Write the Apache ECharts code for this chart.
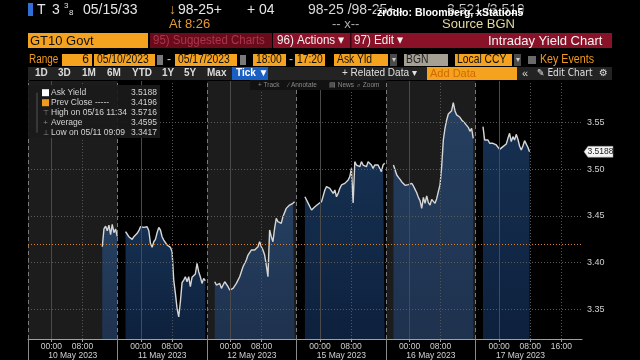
<!DOCTYPE html>
<html><head><meta charset="utf-8">
<script src="https://cdn.jsdelivr.net/npm/echarts@6/dist/echarts.min.js"></script>
<style>html,body{margin:0;padding:0;background:#000;}#c{width:640px;height:360px;}</style>
</head><body><div id="c"></div>
<script>
// ---------- data ----------
const sessionDays = ['10 May 2023','11 May 2023','12 May 2023','15 May 2023','16 May 2023','17 May 2023'];
// first tick of each session, in hours after 18:00 of the previous day
const sessionStartHour = [19.08, 2.05, 1.97, 2.13, 1.87, 1.87];
const STEP_H = 0.427; // hours between readings
const SESSION_H = 23; // each session 18:00 -> 17:00
const ylds10May = [3.417,3.436,3.439,3.434,3.440,3.430,3.441,3.432,3.436,3.428];
const ylds11May = [3.4331,3.4306,3.4277,3.4259,3.4248,3.4277,3.4295,3.4313,3.4342,3.4384,3.4392,3.4377,3.4367,3.4384,3.4342,3.4206,3.4163,3.4223,3.4248,3.4320,3.4377,3.4349,3.4277,3.4241,3.4259,3.4188,3.4170,3.4163,3.4116,3.3812,3.3669,3.3508,3.3417,3.3580,3.3784,3.3812,3.3848,3.3794,3.3848,3.3741,3.3841,3.3830,3.3877,3.3991,3.3902,3.3848,3.3776,3.3830,3.3805];
const ylds12May = [3.3794,3.3759,3.3741,3.3776,3.3723,3.3759,3.3794,3.3776,3.3741,3.3705,3.3687,3.3723,3.3741,3.3776,3.3794,3.3848,3.3902,3.3955,3.3973,3.4027,3.4080,3.4098,3.4134,3.4116,3.4134,3.4152,3.4170,3.4223,3.4170,3.4134,3.4080,3.3973,3.3848,3.4349,3.4277,3.4223,3.4367,3.4474,3.4438,3.4456,3.4420,3.4492,3.4510,3.4581,3.4563,3.4617,3.4617,3.4635,3.4653];
const ylds15May = [3.4706,3.4671,3.4635,3.4599,3.4563,3.4581,3.4599,3.4617,3.4628,3.4635,3.4653,3.4660,3.4778,3.4814,3.4832,3.4796,3.4814,3.4742,3.4778,3.4706,3.4742,3.4796,3.4832,3.4814,3.4849,3.4867,3.4885,3.4921,3.5010,3.4640,3.5082,3.5046,3.5064,3.5028,3.5082,3.5046,3.5064,3.5028,3.5082,3.5100,3.5046,3.5010,3.5046,3.5064,3.5046,3.5010,3.4975,3.5046,3.5064];
const ylds16May = [3.5046,3.4993,3.4939,3.4914,3.4892,3.4864,3.4849,3.4828,3.4821,3.4835,3.4814,3.4849,3.4821,3.4785,3.4749,3.4699,3.4663,3.4581,3.4699,3.4635,3.4714,3.4642,3.4617,3.4678,3.4699,3.4635,3.4685,3.4760,3.4832,3.5028,3.5314,3.5440,3.5529,3.5593,3.5572,3.5629,3.5716,3.5629,3.5583,3.5601,3.5558,3.5529,3.5508,3.5493,3.5472,3.5450,3.5407,3.5440,3.5332];
const ylds17May = [3.5458,3.5314,3.5297,3.5314,3.5279,3.5297,3.5279,3.5297,3.5261,3.5243,3.5214,3.5207,3.5243,3.5225,3.5272,3.5332,3.5386,3.5297,3.5350,3.5314,3.5375,3.5322,3.5250,3.5207,3.5250,3.5307,3.5272,3.5236,3.5188];
const sessions = [ylds10May, ylds11May, ylds12May, ylds15May, ylds16May, ylds17May];
const yTickLabels = [3.35, 3.40, 3.45, 3.50, 3.55];
const yMinorTicks = [3.325,3.35,3.375,3.40,3.425,3.45,3.475,3.50,3.525,3.55,3.575];
const prevClose = 3.4196;
const lastValue = 3.5188;
const legendNames = ['Ask Yield','Prev Close -----','High on 05/16 11:34','Average','Low on 05/11 09:09'];
const legendValues = ['3.5188','3.4196','3.5716','3.4595','3.3417'];
const rangeTabs = ['1D','3D','1M','6M','YTD','1Y','5Y','Max'];

// ---------- chart ----------
const F = 'Liberation Sans, Arial, sans-serif';
const X_MAX = 142.3, Y_MIN = 3.318, Y_MAX = 3.5947;
const nS = sessions.length;
const timeVals = [], dateVals = [], bounds = [], midnight = [], eight = [];
for (let k = 0; k < nS; k++) {
  timeVals.push(k*SESSION_H+6, k*SESSION_H+14);
  dateVals.push(k*SESSION_H+11.5);
  bounds.push(k*SESSION_H);
  midnight.push(k*SESSION_H+6);
  eight.push(k*SESSION_H+14);
}
timeVals.push((nS-1)*SESSION_H+22);
eight.push((nS-1)*SESSION_H+22);
function hourLabel(v){ const h = ((Math.round(v % SESSION_H) + 18) % 24); return (h<10?'0':'')+h+':00'; }

const areaColor = new echarts.graphic.LinearGradient(0,0,0,1,[
  {offset:0,color:'rgba(50,108,182,0.64)'},{offset:1,color:'rgba(34,84,156,0.56)'}]);

const series = [];
series.push({type:'line', data:[], z:1, silent:true,
  markArea:{silent:true, itemStyle:{color:'#1c1c1c'},
    data: bounds.filter((b,i)=>i%2===0).map(b=>[{xAxis:b},{xAxis:b+SESSION_H}])}});
sessions.forEach((vals,k)=>{
  series.push({type:'line', z:2, showSymbol:false, symbol:'none', silent:true,
    data: vals.map((v,i)=>[k*SESSION_H + sessionStartHour[k] + i*STEP_H, v]),
    lineStyle:{color:'#d6d6d6', width:1.4},
    areaStyle:{color:areaColor, origin:'start'}});
});
const gl = (arr, st)=>arr.map(v=>({xAxis:v, lineStyle:st}));
series.push({type:'line', data:[], z:3, silent:true,
  markLine:{symbol:'none', silent:true, label:{show:false}, animation:false,
    data: [].concat(
      gl(bounds, {color:'#7a7a7a', type:[4,3], width:1}),
      gl(midnight, {color:'#4a4a4a', type:'solid', width:1}),
      gl(eight, {color:'#555555', type:[1,2], width:1}),
      yTickLabels.map(v=>({yAxis:v, lineStyle:{color:'#5a5a5a', type:[1,2], width:1}})),
      [{yAxis:prevClose, lineStyle:{color:'#d8822c', type:[1,2], width:1}}]
    )}});

const G = [];
function T(x,y,text,fill,size,opt){ opt=opt||{}; G.push({type:'text', x, y, z:opt.z||10, scaleX:opt.sx||1, style:{text, fill, font:(opt.weight||'normal')+' '+size+'px '+(opt.family||F), textAlign:opt.align||'left', textVerticalAlign:'middle', textBorderColor:opt.border, textBorderWidth:opt.border?2:0}}); }
function R(x,y,w,h,fill){ G.push({type:'rect', shape:{x,y,width:w,height:h}, z:9, style:{fill}}); }

// row 1
R(28,3,5,13,'#2f6fd6');
T(37,10,'T','#e6e6e6',14); T(52,10,'3','#e6e6e6',14); T(64,6,'3','#e6e6e6',8); T(69,12.5,'8','#e6e6e6',8);
T(83,10,'05/15/33','#e6e6e6',14);
T(169,10,'↓','#e39b3a',14); T(178,10,'98-25+','#e6e6e6',14);
T(247,10,'+ 04','#e6e6e6',14);
T(308,10,'98-25 /98-25+','#d8d8d8',14);
T(447,10,'3.521 /3.519','#c8c8c8',14);
// row 2
T(169,24,'At 8:26','#e39b3a',13); T(332,24,'-- x--','#b0b0b0',13); T(442,24,'Source BGN','#e6d9a2',13);
// row 3
R(28,33,120,15,'#f5a21e'); T(30,41,'GT10 Govt','#111',13);
R(150,33,122,15,'#6a0b1c'); T(153,41,'95) Suggested Charts','#a8374b',12.5,{sx:0.92});
R(273,33,339,15,'#8a1228'); R(350,33,1.5,15,'#3a0510');
T(277,41,'96) Actions ▾','#f0f0f0',12.5,{sx:0.93}); T(354,41,'97) Edit ▾','#f0f0f0',12.5,{sx:0.93});
T(488,41,'Intraday Yield Chart','#f4f4f4',13);
// row 4
const S4 = 0.86;
T(29,60,'Range','#f29a1e',12,{sx:0.83});
R(62,54,30,12,'#f5a21e'); T(89,60,'6','#111',12,{align:'right'});
R(94,54,61,12,'#f5a21e'); T(97,60,'05/10/2023','#111',12,{sx:S4});
R(157,55,6,10,'#7a7a7a'); T(167,60,'-','#ccc',12);
R(175,54,62,12,'#f5a21e'); T(178,60,'05/17/2023','#111',12,{sx:S4});
R(240,55,6,10,'#7a7a7a');
R(253,54,33,12,'#f5a21e'); T(256,60,'18:00','#111',12,{sx:S4}); T(289,60,'-','#ccc',12);
R(295,54,30,12,'#f5a21e'); T(297,60,'17:20','#111',12,{sx:S4});
R(334,54,54,12,'#f5a21e'); T(337,60,'Ask Yld','#111',12,{sx:S4});
R(390,54,7,12,'#4a4a4a'); T(393.5,60,'▾','#ccc',8,{align:'center'});
R(404,54,44,12,'#a59f94'); T(406,60,'BGN','#222',12,{sx:S4});
R(455,54,57,12,'#f5a21e'); T(457,60,'Local CCY','#111',12,{sx:S4});
R(514,54,7,12,'#4a4a4a'); T(517.5,60,'▾','#ccc',8,{align:'center'});
R(528,56,8,8,'#6a6a6a');
T(540,60,'Key Events','#f29a1e',12,{sx:0.89});
// row 5
R(28,67,584,13,'#232323');
const tabX = [35,58,82,107,132,162,184,207];
rangeTabs.forEach((t,i)=>T(tabX[i],73.5,t,'#dcdcdc',10,{weight:'bold'}));
R(232,67,36,13,'#1a5fc4'); T(236,73.5,'Tick ▼','#fff',10,{weight:'bold'});
T(342,73.5,'+ Related Data ▾','#e0e0e0',10);
R(427,67,90,13,'#f5a21e'); T(430,73.5,'Add Data','#d06a00',11);
T(522,73.5,'«','#ddd',11); T(537,73.5,'✎ Edit Chart','#e0e0e0',10,{family:'DejaVu Sans, sans-serif', sx:0.9});
T(599,73.5,'⚙','#ddd',10,{family:'DejaVu Sans, sans-serif'});
// row 6 toolbar
R(250,80,136,10,'#121212');
T(258,85,'+ Track','#8a8a8a',6.5); T(288,85,'∕ Annotate','#8a8a8a',6.5); T(329,85,'▤ News','#8a8a8a',6.5); T(357,85,'⌕ Zoom','#8a8a8a',6.5);
// legend box
G.push({type:'rect', shape:{x:28,y:85,width:132,height:53}, z:9, style:{fill:'rgba(26,26,26,0.92)'}});
const ly = [92.7,102.7,112.7,122.7,132.7];
G.push({type:'rect', shape:{x:42,y:ly[0]-3.5,width:7,height:7}, z:10, style:{fill:'#ffffff'}});
G.push({type:'rect', shape:{x:42,y:ly[1]-3.5,width:7,height:7}, z:10, style:{fill:'#f29a1e'}});
G.push({type:'line', shape:{x1:37,y1:ly[0],x2:37,y2:ly[4]}, z:10, style:{stroke:'#555',lineWidth:1}});
T(45.5,ly[2],'⊤','#888',7,{align:'center'}); T(45.5,ly[3],'+','#888',8,{align:'center'}); T(45.5,ly[4],'⊥','#888',7,{align:'center'});
legendNames.forEach((n,i)=>{ T(51,ly[i],n,'#d4d4d4',8.5); T(157,ly[i],legendValues[i],'#d4d4d4',8.5,{align:'right'}); });
// watermark
T(377,13,'źródło: Bloomberg, xStation5','#ffffff',10.5,{weight:'bold', border:'rgba(0,0,0,0.6)', z:20});

const chart = echarts.init(document.getElementById('c'));
chart.setOption({
  animation:false, backgroundColor:'#000',
  grid:{left:28, right:58, top:81, bottom:21},
  xAxis:[
    {type:'value', min:0, max:X_MAX, position:'bottom',
     axisLine:{show:true, lineStyle:{color:'#a0a0a0', width:1}},
     axisTick:{show:true, customValues:timeVals, length:3, lineStyle:{color:'#a0a0a0'}},
     splitLine:{show:false},
     axisLabel:{show:true, customValues:timeVals, formatter:hourLabel, color:'#d0d0d0', fontSize:8.5, fontFamily:F, margin:3}},
    {type:'value', min:0, max:X_MAX, position:'bottom',
     axisLine:{show:false},
     axisTick:{show:true, customValues:bounds, length:21, lineStyle:{color:'#8a8a8a'}},
     splitLine:{show:false},
     axisLabel:{show:true, customValues:dateVals, formatter:v=>sessionDays[Math.floor(v/SESSION_H)], color:'#d0d0d0', fontSize:8.5, fontFamily:F, margin:12}}
  ],
  yAxis:{type:'value', min:Y_MIN, max:Y_MAX, position:'right',
    axisLine:{show:true, lineStyle:{color:'#b8b8b8', width:1}},
    axisTick:{show:true, customValues:yMinorTicks, length:3, lineStyle:{color:'#b8b8b8'}},
    splitLine:{show:false},
    axisLabel:{show:true, customValues:yTickLabels, formatter:v=>v.toFixed(2), color:'#d0d0d0', fontSize:9, fontFamily:F, margin:5}},
  series,
  graphic:G
});
// last-value tag on the axis
const py = chart.convertToPixel({yAxisIndex:0}, lastValue);
const px = chart.convertToPixel({xAxisIndex:0}, X_MAX);
chart.setOption({graphic: G.concat([
  {type:'polygon', z:15, shape:{points:[[px+2,py],[px+6,py-5.5],[px+31,py-5.5],[px+31,py+5.5],[px+6,py+5.5]]}, style:{fill:'#f4f4f4', stroke:'#999', lineWidth:0.5}},
  {type:'text', z:16, x:px+18.5, y:py, style:{text:lastValue.toFixed(4), fill:'#222', font:'normal 8.5px '+F, textAlign:'center', textVerticalAlign:'middle'}}
])});
</script></body></html>
